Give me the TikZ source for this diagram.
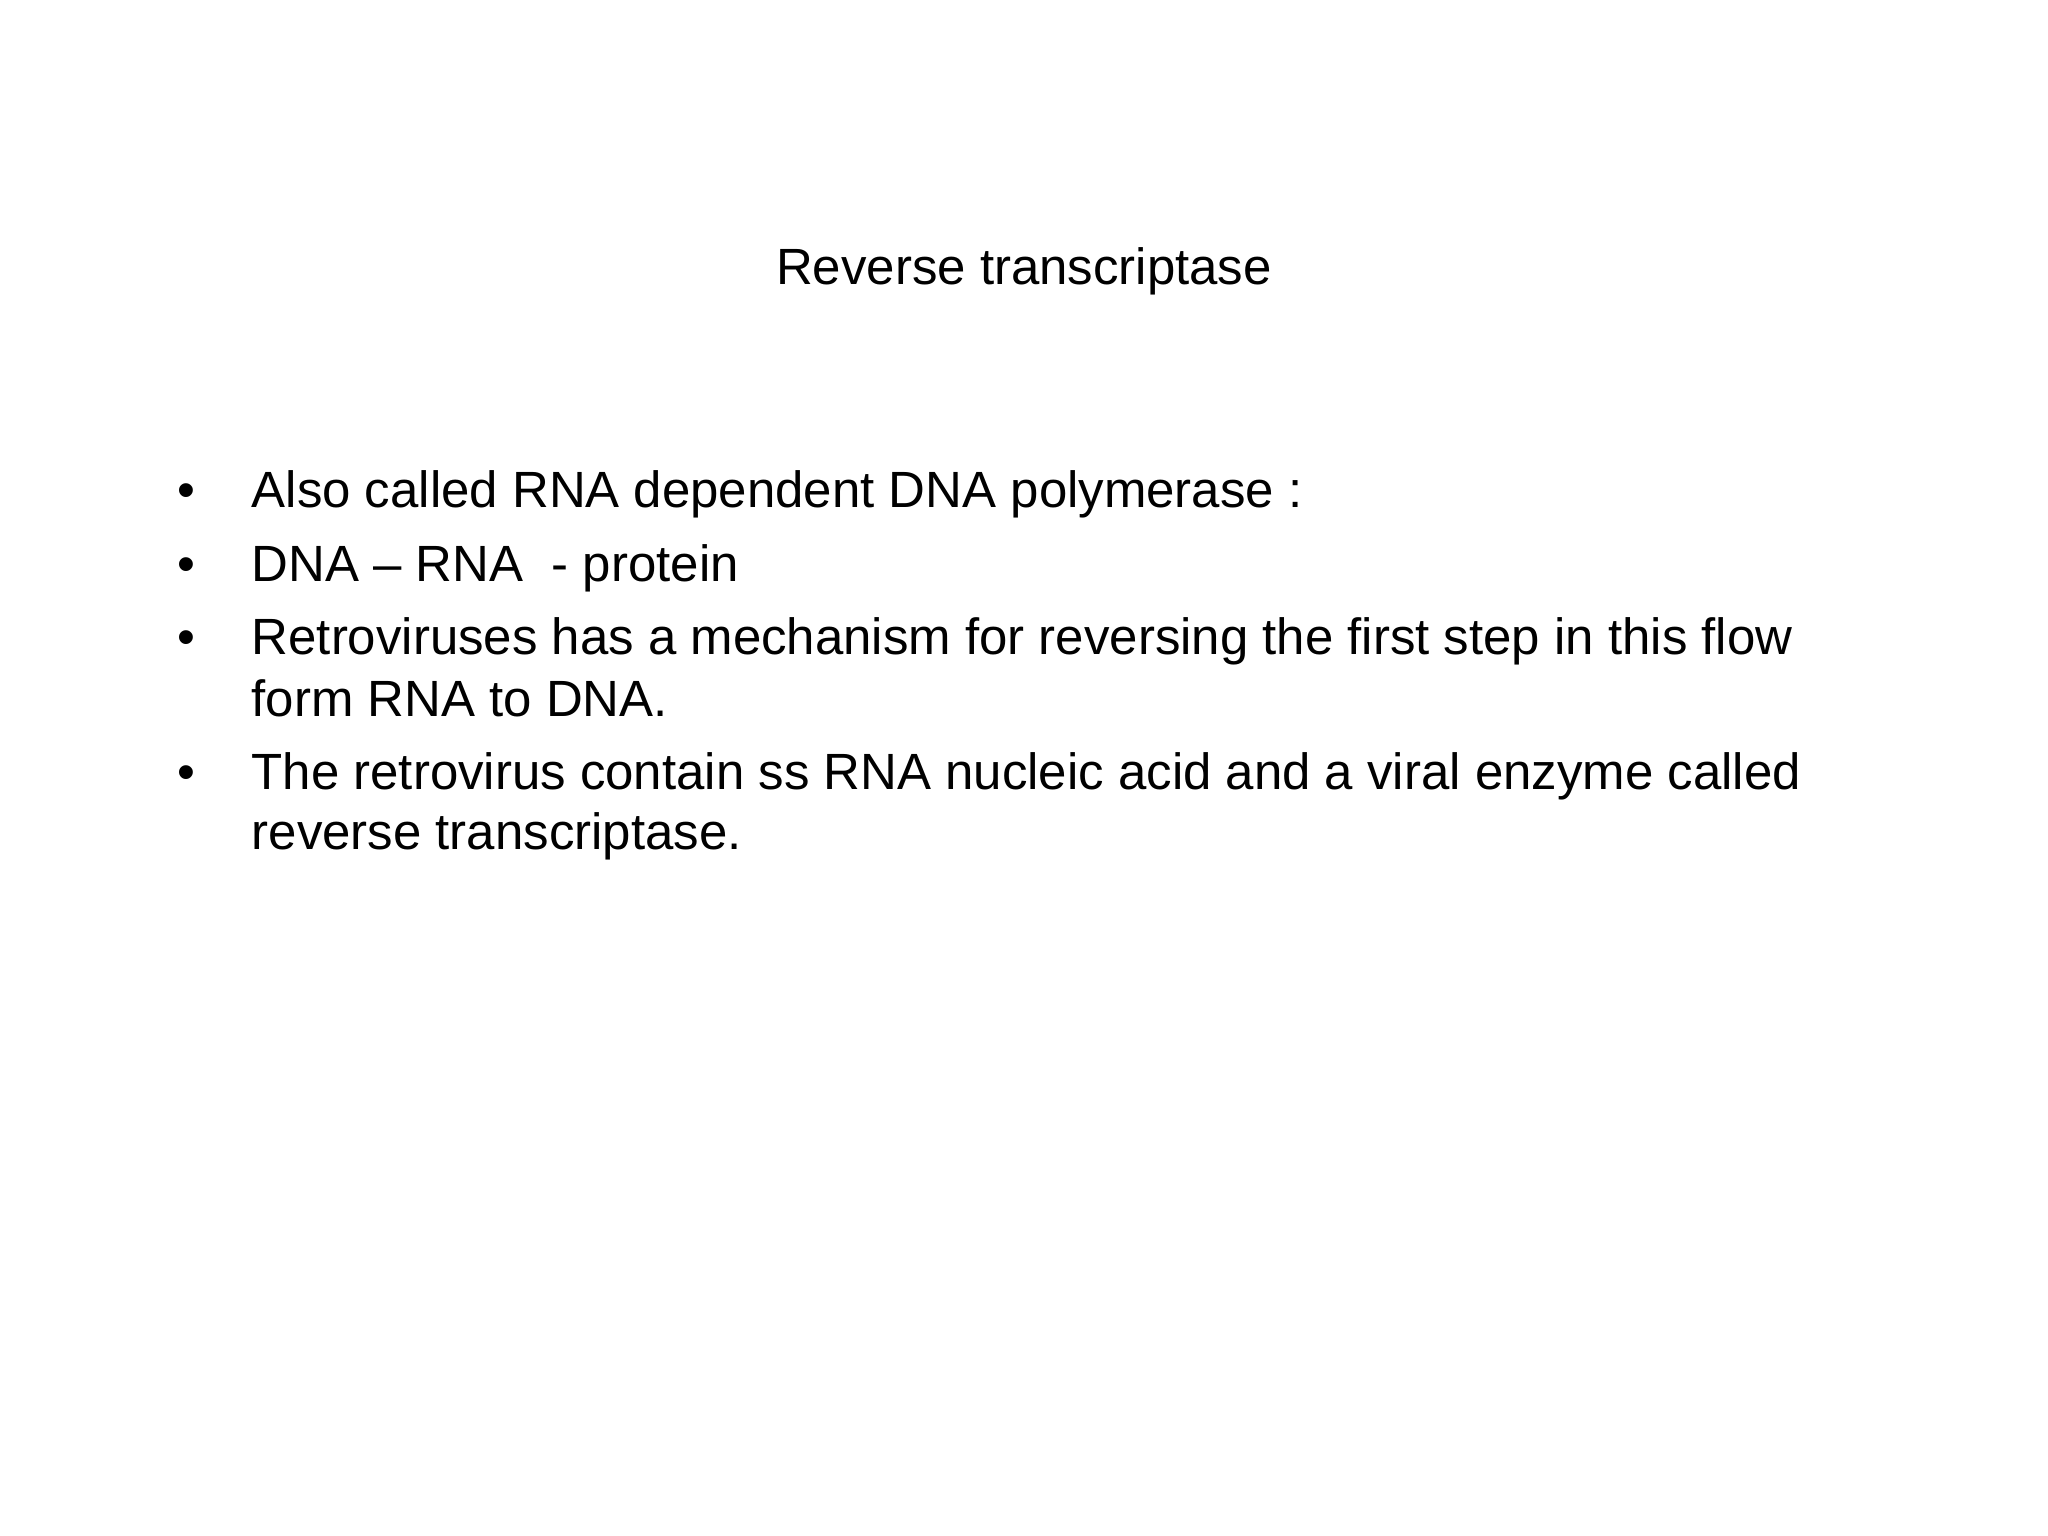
\documentclass[tikz,border=0pt]{standalone}
\usepackage{fontspec}
\setmainfont{Liberation Sans}
\usetikzlibrary{scopes}

\begin{document}
\begin{tikzpicture}
    \useasboundingbox (0,0) rectangle (20.48,15.36);
    \node[anchor=base, font=\fontsize{14.5}{17}\selectfont] (title) at (10.24,12.51) {Reverse transcriptase};
    {[every node/.style={anchor=base west, inner sep=0pt, font=\fontsize{14.5}{17}\selectfont}]
    \node (item1) at (2.51,10.28) {Also called RNA dependent DNA polymerase :};
    \node (item2) at (2.51,9.54) {DNA -- RNA \ - protein};
    \node (item3) at (2.51,8.81) {Retroviruses has a mechanism for reversing the first step in this flow};
    \node (item3b) at (2.51,8.19) {form RNA to DNA.};
    \node (item4) at (2.51,7.46) {The retrovirus contain ss RNA nucleic acid and a viral enzyme called};
    \node (item4b) at (2.51,6.86) {reverse transcriptase.};
    }
    {[every node/.style={anchor=base, inner sep=0pt, font=\fontsize{14.5}{17}\selectfont}]
    \node (dot1) at (1.86,10.28) {\textbullet};
    \node (dot2) at (1.86,9.54) {\textbullet};
    \node (dot3) at (1.86,8.81) {\textbullet};
    \node (dot4) at (1.86,7.46) {\textbullet};
    }
\end{tikzpicture}
\end{document}
